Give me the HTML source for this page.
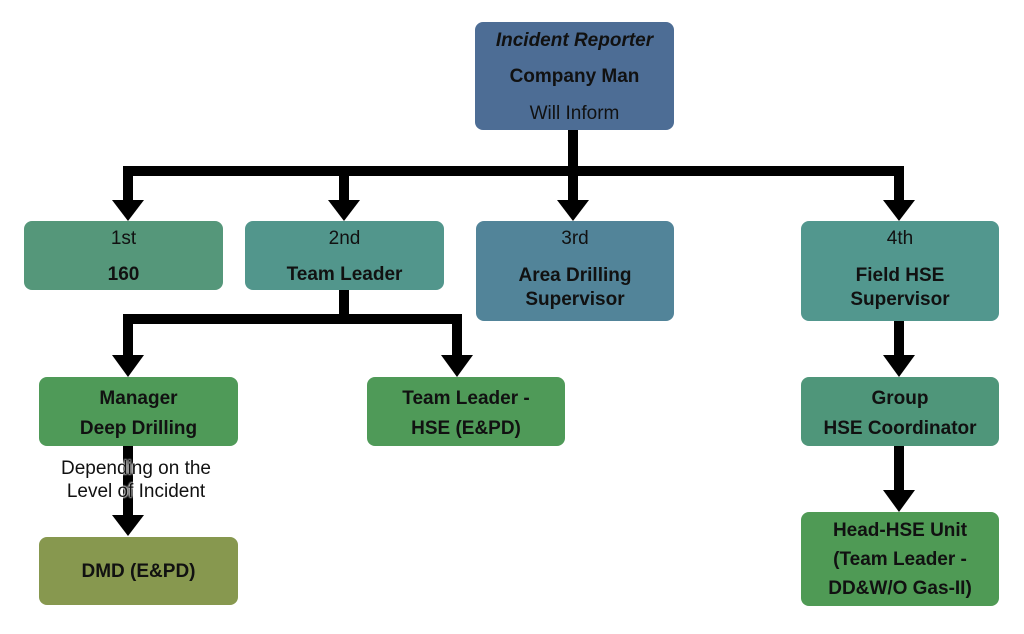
<!DOCTYPE html>
<html><head><style>
body{margin:0;width:1024px;height:634px;background:#fff;position:relative;overflow:hidden;font-family:"Liberation Sans Narrow","Liberation Sans",sans-serif;}
.b{position:absolute;border-radius:8px;text-align:center;color:#111;font-size:19px;box-sizing:border-box;}
.b div{position:absolute;left:0;right:0;}
.n{font-weight:normal}
.w{font-weight:bold}
</style></head><body>
<svg width="1024" height="634" style="position:absolute;left:0;top:0">
<g fill="#000">
<rect x="568" y="130" width="10" height="50"/>
<rect x="123" y="166" width="781" height="10"/>
<rect x="123" y="166" width="10" height="36"/><polygon points="112,200 144,200 128,221"/>
<rect x="339" y="166" width="10" height="36"/><polygon points="328,200 360,200 344,221"/>
<rect x="568" y="166" width="10" height="36"/><polygon points="557,200 589,200 573,221"/>
<rect x="894" y="166" width="10" height="36"/><polygon points="883,200 915,200 899,221"/>
<rect x="339" y="290" width="10" height="30"/>
<rect x="123" y="314" width="339" height="10"/>
<rect x="123" y="314" width="10" height="42"/><polygon points="112,355 144,355 128,377"/>
<rect x="452" y="314" width="10" height="42"/><polygon points="441,355 473,355 457,377"/>
<rect x="894" y="321" width="10" height="35"/><polygon points="883,355 915,355 899,377"/>
<rect x="894" y="446" width="10" height="45"/><polygon points="883,490 915,490 899,512"/>
<rect x="123" y="446" width="10" height="70"/><polygon points="112,515 144,515 128,536"/>
</g></svg>
<div class="b" style="left:475px;top:22px;width:199px;height:108px;background:#4d6d95">
<div style="top:8px;font-style:italic;font-weight:bold">Incident Reporter</div>
<div class="w" style="top:44px">Company Man</div>
<div class="n" style="top:81px">Will Inform</div></div>
<div class="b" style="left:24px;top:221px;width:199px;height:69px;background:#55977a">
<div class="n" style="top:7px">1st</div><div class="w" style="top:43px">160</div></div>
<div class="b" style="left:245px;top:221px;width:199px;height:69px;background:#52968c">
<div class="n" style="top:7px">2nd</div><div class="w" style="top:43px">Team Leader</div></div>
<div class="b" style="left:476px;top:221px;width:198px;height:100px;background:#528499">
<div class="n" style="top:7px">3rd</div><div class="w" style="top:43px;line-height:24px">Area Drilling<br>Supervisor</div></div>
<div class="b" style="left:801px;top:221px;width:198px;height:100px;background:#52978e">
<div class="n" style="top:7px">4th</div><div class="w" style="top:43px;line-height:24px">Field HSE<br>Supervisor</div></div>
<div class="b" style="left:39px;top:377px;width:199px;height:69px;background:#4f9a58">
<div class="w" style="top:7px;line-height:30px">Manager<br>Deep Drilling</div></div>
<div class="b" style="left:367px;top:377px;width:198px;height:69px;background:#4f9a58">
<div class="w" style="top:7px;line-height:30px">Team Leader -<br>HSE (E&amp;PD)</div></div>
<div class="b" style="left:801px;top:377px;width:198px;height:69px;background:#4f967a">
<div class="w" style="top:7px;line-height:30px">Group<br>HSE Coordinator</div></div>
<div class="b" style="left:39px;top:537px;width:199px;height:68px;background:#87984f">
<div class="w" style="top:24px">DMD (E&amp;PD)</div></div>
<div class="b" style="left:801px;top:512px;width:198px;height:94px;background:#4f9a55">
<div class="w" style="top:4px;line-height:29px">Head-HSE Unit<br>(Team Leader -<br>DD&amp;W/O Gas-II)</div></div>
<div style="position:absolute;left:36px;top:457px;width:200px;text-align:center;font-size:19px;line-height:23px;color:#111;text-shadow:0 0 2px #fff,0 0 2px #fff,0 0 2px #fff">Depending on the<br>Level of Incident</div>
</body></html>
